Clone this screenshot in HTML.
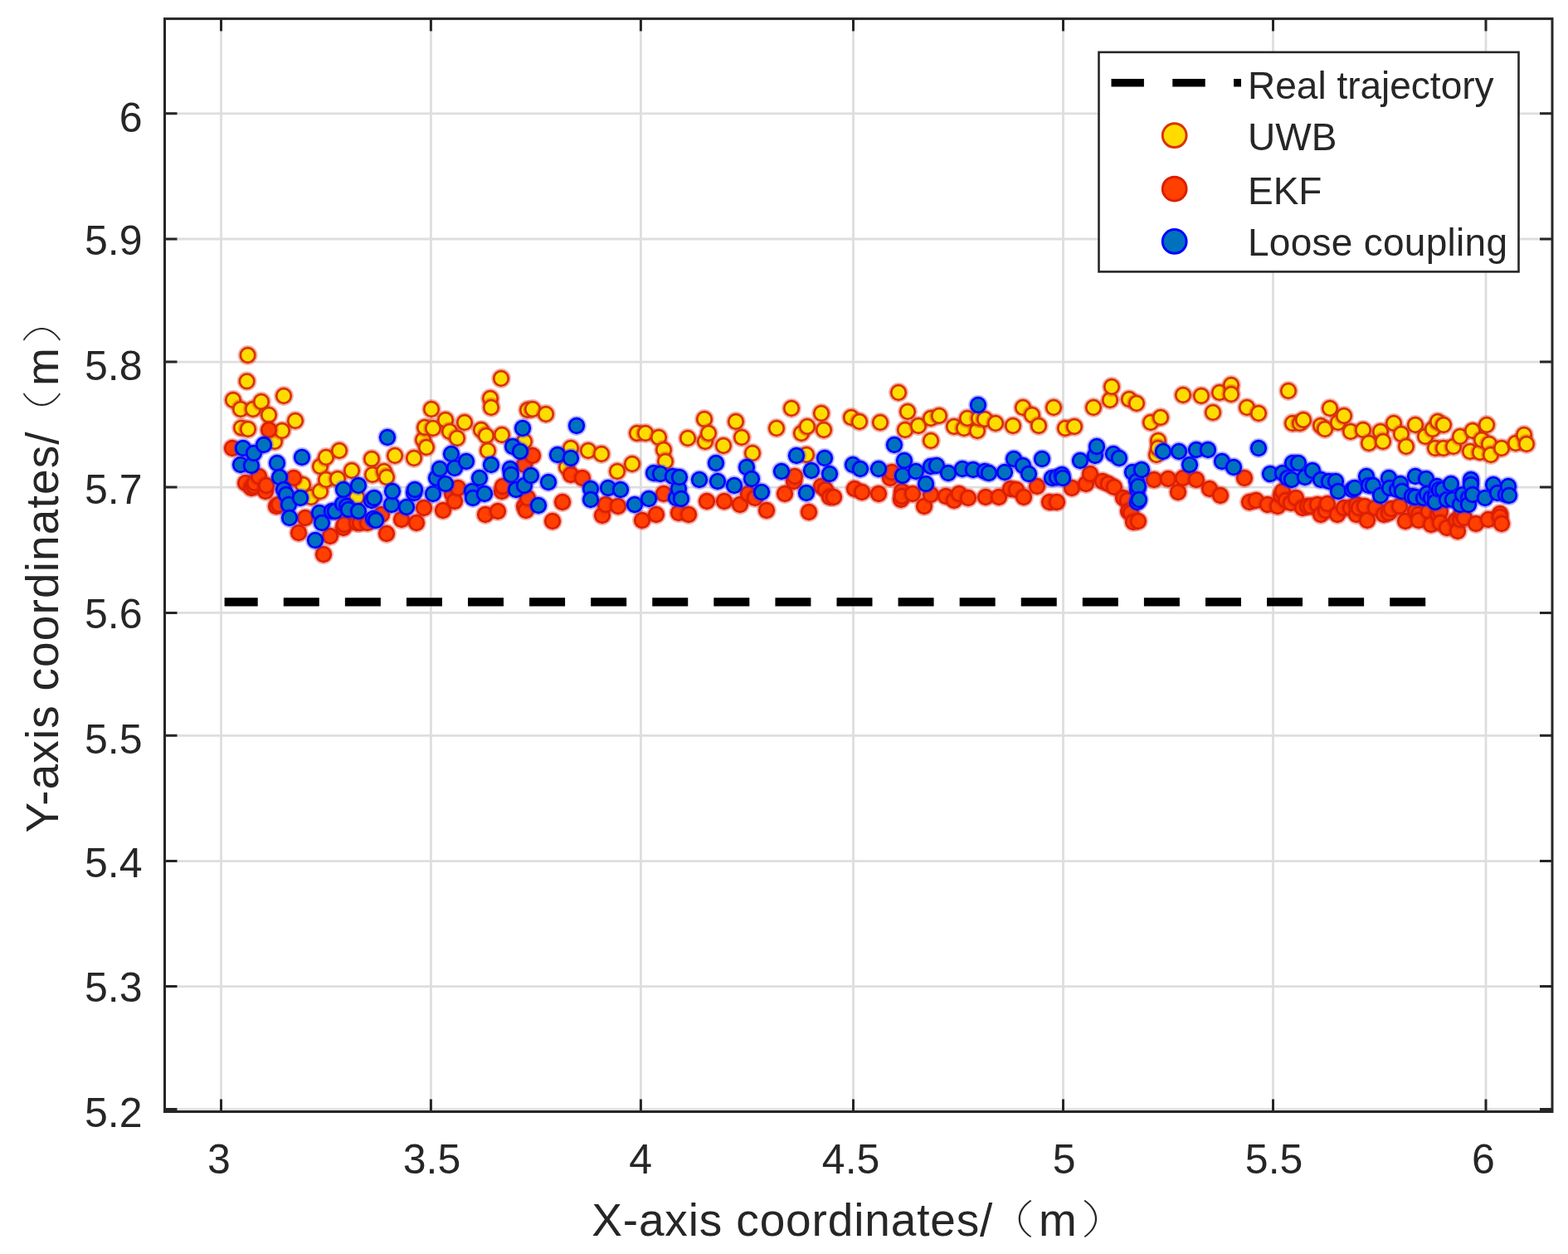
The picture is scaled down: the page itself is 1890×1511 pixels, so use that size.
<!DOCTYPE html><html><head><meta charset="utf-8"><title>Trajectory comparison</title>
<style>html,body{margin:0;padding:0;background:#fff;width:1890px;height:1511px;overflow:hidden}svg{display:block}text{font-family:"Liberation Sans", Arial, sans-serif;fill:#262626}.cj{font-family:"Liberation Sans", "Noto Sans CJK SC", sans-serif;font-weight:100}</style></head><body>
<svg width="1890" height="1511" viewBox="0 0 1890 1511">
<rect x="0" y="0" width="1890" height="1511" fill="#fff"/>
<g>
<path d="M266.5 22.6V1339.5M519.4 22.6V1339.5M772.4 22.6V1339.5M1028.5 22.6V1339.5M1281.5 22.6V1339.5M1534.5 22.6V1339.5M1791.0 22.6V1339.5M198.5 136.8H1871.0M198.5 288.0H1871.0M198.5 436.1H1871.0M198.5 587.1H1871.0M198.5 738.4H1871.0M198.5 886.3H1871.0M198.5 1037.6H1871.0M198.5 1188.6H1871.0M198.5 1336.6H1871.0" stroke="#dedede" stroke-width="2.8" fill="none"/>
<defs>
<g id="u"><circle r="11.00" fill="none" stroke="#D82818" stroke-opacity="0.35" stroke-width="1.80"/><circle r="8.80" fill="#FFDC00" stroke="#D93204" stroke-width="2.80"/></g>
<g id="e"><circle r="11.00" fill="none" stroke="#E02010" stroke-opacity="0.35" stroke-width="1.80"/><circle r="8.80" fill="#FF4000" stroke="#DD1E00" stroke-width="2.80"/></g>
<g id="l"><circle r="11.00" fill="none" stroke="#3030FF" stroke-opacity="0.35" stroke-width="1.80"/><circle r="8.80" fill="#0072BD" stroke="#0000FF" stroke-width="2.80"/></g>
</defs>
<g><use href="#u" x="281.0" y="482.0"/><use href="#u" x="290.0" y="493.0"/><use href="#u" x="291.0" y="515.6"/><use href="#u" x="297.6" y="459.4"/><use href="#u" x="298.6" y="428.0"/><use href="#u" x="299.0" y="517.0"/><use href="#u" x="305.0" y="493.0"/><use href="#u" x="315.0" y="484.0"/><use href="#u" x="324.0" y="500.0"/><use href="#u" x="331.0" y="532.0"/><use href="#u" x="340.0" y="519.0"/><use href="#u" x="342.0" y="477.0"/><use href="#u" x="356.0" y="507.0"/><use href="#u" x="365.0" y="584.0"/><use href="#u" x="375.0" y="599.0"/><use href="#u" x="386.0" y="562.0"/><use href="#u" x="386.0" y="592.0"/><use href="#u" x="393.0" y="551.0"/><use href="#u" x="393.0" y="578.0"/><use href="#u" x="407.0" y="577.0"/><use href="#u" x="409.0" y="543.0"/><use href="#u" x="424.0" y="567.0"/><use href="#u" x="430.0" y="599.0"/><use href="#u" x="448.0" y="553.0"/><use href="#u" x="449.0" y="572.0"/><use href="#u" x="463.0" y="568.0"/><use href="#u" x="466.0" y="575.0"/><use href="#u" x="476.0" y="549.0"/><use href="#u" x="499.0" y="552.0"/><use href="#u" x="510.0" y="530.0"/><use href="#u" x="512.0" y="515.0"/><use href="#u" x="514.0" y="539.0"/><use href="#u" x="520.0" y="493.0"/><use href="#u" x="522.0" y="516.0"/><use href="#u" x="537.0" y="506.0"/><use href="#u" x="542.0" y="520.0"/><use href="#u" x="551.0" y="528.0"/><use href="#u" x="560.0" y="509.0"/><use href="#u" x="580.0" y="518.0"/><use href="#u" x="586.0" y="525.0"/><use href="#u" x="588.0" y="543.0"/><use href="#u" x="591.0" y="480.0"/><use href="#u" x="592.0" y="491.0"/><use href="#u" x="604.0" y="456.0"/><use href="#u" x="605.0" y="524.0"/><use href="#u" x="632.0" y="532.0"/><use href="#u" x="636.0" y="494.0"/><use href="#u" x="642.0" y="493.0"/><use href="#u" x="658.0" y="499.0"/><use href="#u" x="683.0" y="563.0"/><use href="#u" x="688.0" y="540.0"/><use href="#u" x="709.0" y="543.0"/><use href="#u" x="725.0" y="547.0"/><use href="#u" x="744.0" y="568.0"/><use href="#u" x="762.0" y="559.0"/><use href="#u" x="768.0" y="522.0"/><use href="#u" x="778.0" y="522.0"/><use href="#u" x="794.0" y="527.0"/><use href="#u" x="800.0" y="542.0"/><use href="#u" x="802.0" y="556.0"/><use href="#u" x="829.0" y="528.0"/><use href="#u" x="849.0" y="505.0"/><use href="#u" x="850.0" y="532.0"/><use href="#u" x="854.0" y="522.0"/><use href="#u" x="872.0" y="537.0"/><use href="#u" x="887.0" y="508.0"/><use href="#u" x="894.0" y="527.0"/><use href="#u" x="907.0" y="546.0"/><use href="#u" x="936.0" y="516.0"/><use href="#u" x="954.0" y="492.0"/><use href="#u" x="966.0" y="522.0"/><use href="#u" x="972.0" y="548.0"/><use href="#u" x="973.0" y="514.0"/><use href="#u" x="990.0" y="498.0"/><use href="#u" x="993.0" y="518.0"/><use href="#u" x="1026.0" y="503.0"/><use href="#u" x="1036.0" y="508.0"/><use href="#u" x="1061.0" y="509.0"/><use href="#u" x="1083.0" y="473.0"/><use href="#u" x="1091.0" y="518.0"/><use href="#u" x="1094.0" y="496.0"/><use href="#u" x="1107.0" y="513.0"/><use href="#u" x="1122.0" y="504.0"/><use href="#u" x="1122.0" y="531.0"/><use href="#u" x="1132.0" y="501.0"/><use href="#u" x="1150.0" y="514.0"/><use href="#u" x="1162.0" y="516.0"/><use href="#u" x="1166.0" y="504.0"/><use href="#u" x="1178.0" y="519.0"/><use href="#u" x="1180.0" y="504.0"/><use href="#u" x="1187.0" y="505.0"/><use href="#u" x="1200.0" y="510.0"/><use href="#u" x="1221.0" y="513.0"/><use href="#u" x="1233.0" y="491.0"/><use href="#u" x="1244.0" y="500.0"/><use href="#u" x="1252.0" y="513.0"/><use href="#u" x="1270.0" y="491.0"/><use href="#u" x="1284.0" y="516.0"/><use href="#u" x="1295.0" y="514.0"/><use href="#u" x="1318.0" y="491.0"/><use href="#u" x="1338.0" y="482.0"/><use href="#u" x="1340.0" y="466.0"/><use href="#u" x="1361.0" y="481.0"/><use href="#u" x="1370.0" y="486.0"/><use href="#u" x="1387.0" y="509.0"/><use href="#u" x="1394.0" y="548.0"/><use href="#u" x="1396.0" y="531.0"/><use href="#u" x="1396.0" y="540.0"/><use href="#u" x="1399.0" y="503.0"/><use href="#u" x="1426.0" y="476.0"/><use href="#u" x="1448.0" y="477.0"/><use href="#u" x="1462.0" y="497.0"/><use href="#u" x="1470.0" y="473.0"/><use href="#u" x="1484.0" y="464.0"/><use href="#u" x="1484.0" y="475.0"/><use href="#u" x="1503.0" y="491.0"/><use href="#u" x="1517.0" y="498.0"/><use href="#u" x="1553.0" y="471.0"/><use href="#u" x="1558.0" y="510.0"/><use href="#u" x="1567.0" y="510.0"/><use href="#u" x="1571.0" y="506.0"/><use href="#u" x="1592.0" y="513.0"/><use href="#u" x="1597.0" y="517.0"/><use href="#u" x="1603.0" y="492.0"/><use href="#u" x="1613.0" y="509.0"/><use href="#u" x="1620.0" y="501.0"/><use href="#u" x="1628.0" y="520.0"/><use href="#u" x="1643.0" y="518.0"/><use href="#u" x="1650.0" y="534.0"/><use href="#u" x="1664.0" y="520.0"/><use href="#u" x="1667.0" y="532.0"/><use href="#u" x="1680.0" y="510.0"/><use href="#u" x="1689.0" y="523.0"/><use href="#u" x="1695.0" y="538.0"/><use href="#u" x="1706.0" y="512.0"/><use href="#u" x="1718.0" y="526.0"/><use href="#u" x="1727.0" y="517.0"/><use href="#u" x="1730.0" y="540.0"/><use href="#u" x="1733.0" y="508.0"/><use href="#u" x="1740.0" y="512.0"/><use href="#u" x="1740.0" y="540.0"/><use href="#u" x="1752.0" y="538.0"/><use href="#u" x="1760.0" y="526.0"/><use href="#u" x="1772.0" y="544.0"/><use href="#u" x="1775.0" y="519.0"/><use href="#u" x="1784.0" y="545.0"/><use href="#u" x="1786.0" y="530.0"/><use href="#u" x="1792.0" y="512.0"/><use href="#u" x="1795.0" y="535.0"/><use href="#u" x="1797.0" y="548.0"/><use href="#u" x="1810.0" y="540.0"/><use href="#u" x="1827.0" y="534.0"/><use href="#u" x="1837.0" y="524.0"/><use href="#u" x="1840.0" y="535.0"/><use href="#e" x="280.0" y="540.0"/><use href="#e" x="296.0" y="582.0"/><use href="#e" x="303.0" y="588.0"/><use href="#e" x="306.0" y="586.0"/><use href="#e" x="307.0" y="582.0"/><use href="#e" x="312.0" y="574.0"/><use href="#e" x="320.0" y="592.0"/><use href="#e" x="321.0" y="585.0"/><use href="#e" x="324.0" y="518.0"/><use href="#e" x="333.0" y="610.0"/><use href="#e" x="336.0" y="608.0"/><use href="#e" x="354.0" y="576.0"/><use href="#e" x="360.0" y="642.0"/><use href="#e" x="368.0" y="624.0"/><use href="#e" x="390.0" y="668.0"/><use href="#e" x="398.0" y="646.0"/><use href="#e" x="414.0" y="636.0"/><use href="#e" x="415.0" y="632.0"/><use href="#e" x="430.0" y="630.0"/><use href="#e" x="434.0" y="630.0"/><use href="#e" x="443.0" y="630.0"/><use href="#e" x="460.0" y="620.0"/><use href="#e" x="466.0" y="643.0"/><use href="#e" x="484.0" y="626.0"/><use href="#e" x="502.0" y="630.0"/><use href="#e" x="511.0" y="612.0"/><use href="#e" x="534.0" y="615.0"/><use href="#e" x="545.0" y="595.0"/><use href="#e" x="548.0" y="604.0"/><use href="#e" x="552.0" y="588.0"/><use href="#e" x="585.0" y="620.0"/><use href="#e" x="600.0" y="616.0"/><use href="#e" x="605.0" y="592.0"/><use href="#e" x="606.0" y="586.0"/><use href="#e" x="632.0" y="560.0"/><use href="#e" x="632.0" y="610.0"/><use href="#e" x="634.0" y="615.0"/><use href="#e" x="636.0" y="600.0"/><use href="#e" x="642.0" y="549.0"/><use href="#e" x="666.0" y="628.0"/><use href="#e" x="678.0" y="605.0"/><use href="#e" x="688.0" y="572.0"/><use href="#e" x="702.0" y="576.0"/><use href="#e" x="726.0" y="621.0"/><use href="#e" x="730.0" y="608.0"/><use href="#e" x="745.0" y="610.0"/><use href="#e" x="774.0" y="627.0"/><use href="#e" x="791.0" y="620.0"/><use href="#e" x="800.0" y="595.0"/><use href="#e" x="818.0" y="618.0"/><use href="#e" x="830.0" y="620.0"/><use href="#e" x="852.0" y="604.0"/><use href="#e" x="873.0" y="604.0"/><use href="#e" x="892.0" y="608.0"/><use href="#e" x="902.0" y="595.0"/><use href="#e" x="910.0" y="600.0"/><use href="#e" x="924.0" y="615.0"/><use href="#e" x="946.0" y="595.0"/><use href="#e" x="957.0" y="580.0"/><use href="#e" x="958.0" y="574.0"/><use href="#e" x="975.0" y="617.0"/><use href="#e" x="990.0" y="586.0"/><use href="#e" x="995.0" y="590.0"/><use href="#e" x="1000.0" y="599.0"/><use href="#e" x="1005.0" y="599.0"/><use href="#e" x="1030.0" y="589.0"/><use href="#e" x="1039.0" y="593.0"/><use href="#e" x="1059.0" y="595.0"/><use href="#e" x="1073.0" y="576.0"/><use href="#e" x="1075.0" y="569.0"/><use href="#e" x="1086.0" y="602.0"/><use href="#e" x="1087.0" y="592.0"/><use href="#e" x="1087.0" y="598.0"/><use href="#e" x="1100.0" y="595.0"/><use href="#e" x="1114.0" y="610.0"/><use href="#e" x="1122.0" y="596.0"/><use href="#e" x="1140.0" y="598.0"/><use href="#e" x="1150.0" y="603.0"/><use href="#e" x="1156.0" y="595.0"/><use href="#e" x="1167.0" y="600.0"/><use href="#e" x="1188.0" y="599.0"/><use href="#e" x="1204.0" y="599.0"/><use href="#e" x="1218.0" y="589.0"/><use href="#e" x="1225.0" y="590.0"/><use href="#e" x="1234.0" y="599.0"/><use href="#e" x="1250.0" y="586.0"/><use href="#e" x="1265.0" y="605.0"/><use href="#e" x="1274.0" y="605.0"/><use href="#e" x="1292.0" y="588.0"/><use href="#e" x="1309.0" y="583.0"/><use href="#e" x="1314.0" y="571.0"/><use href="#e" x="1329.0" y="580.0"/><use href="#e" x="1336.0" y="583.0"/><use href="#e" x="1343.0" y="587.0"/><use href="#e" x="1354.0" y="600.0"/><use href="#e" x="1359.0" y="603.0"/><use href="#e" x="1360.0" y="616.0"/><use href="#e" x="1363.0" y="618.0"/><use href="#e" x="1366.0" y="629.0"/><use href="#e" x="1372.0" y="628.0"/><use href="#e" x="1391.0" y="578.0"/><use href="#e" x="1408.0" y="577.0"/><use href="#e" x="1420.0" y="593.0"/><use href="#e" x="1426.0" y="576.0"/><use href="#e" x="1442.0" y="578.0"/><use href="#e" x="1458.0" y="589.0"/><use href="#e" x="1471.0" y="597.0"/><use href="#e" x="1500.0" y="576.0"/><use href="#e" x="1506.0" y="605.0"/><use href="#e" x="1514.0" y="603.0"/><use href="#e" x="1528.0" y="608.0"/><use href="#e" x="1540.0" y="610.0"/><use href="#e" x="1544.0" y="597.0"/><use href="#e" x="1546.0" y="592.0"/><use href="#e" x="1550.0" y="603.0"/><use href="#e" x="1556.0" y="606.0"/><use href="#e" x="1562.0" y="600.0"/><use href="#e" x="1570.0" y="612.0"/><use href="#e" x="1576.0" y="610.0"/><use href="#e" x="1580.0" y="610.0"/><use href="#e" x="1588.0" y="608.0"/><use href="#e" x="1592.0" y="620.0"/><use href="#e" x="1598.0" y="615.0"/><use href="#e" x="1600.0" y="607.0"/><use href="#e" x="1612.0" y="620.0"/><use href="#e" x="1620.0" y="612.0"/><use href="#e" x="1628.0" y="612.0"/><use href="#e" x="1635.0" y="608.0"/><use href="#e" x="1635.0" y="620.0"/><use href="#e" x="1638.0" y="612.0"/><use href="#e" x="1645.0" y="610.0"/><use href="#e" x="1648.0" y="627.0"/><use href="#e" x="1658.0" y="612.0"/><use href="#e" x="1668.0" y="620.0"/><use href="#e" x="1674.0" y="618.0"/><use href="#e" x="1677.0" y="613.0"/><use href="#e" x="1687.0" y="610.0"/><use href="#e" x="1694.0" y="628.0"/><use href="#e" x="1706.0" y="616.0"/><use href="#e" x="1710.0" y="620.0"/><use href="#e" x="1710.0" y="627.0"/><use href="#e" x="1722.0" y="616.0"/><use href="#e" x="1725.0" y="632.0"/><use href="#e" x="1733.0" y="620.0"/><use href="#e" x="1736.0" y="616.0"/><use href="#e" x="1736.0" y="630.0"/><use href="#e" x="1744.0" y="636.0"/><use href="#e" x="1755.0" y="627.0"/><use href="#e" x="1757.0" y="640.0"/><use href="#e" x="1760.0" y="626.0"/><use href="#e" x="1762.0" y="618.0"/><use href="#e" x="1765.0" y="624.0"/><use href="#e" x="1779.0" y="631.0"/><use href="#e" x="1794.0" y="626.0"/><use href="#e" x="1808.0" y="619.0"/><use href="#e" x="1808.0" y="623.0"/><use href="#e" x="1810.0" y="631.0"/><use href="#l" x="290.0" y="560.0"/><use href="#l" x="293.0" y="540.0"/><use href="#l" x="303.0" y="561.0"/><use href="#l" x="306.0" y="546.0"/><use href="#l" x="318.0" y="536.0"/><use href="#l" x="334.0" y="558.0"/><use href="#l" x="337.0" y="575.0"/><use href="#l" x="342.0" y="590.0"/><use href="#l" x="345.0" y="596.0"/><use href="#l" x="348.0" y="608.0"/><use href="#l" x="349.0" y="624.0"/><use href="#l" x="362.0" y="600.0"/><use href="#l" x="364.0" y="551.0"/><use href="#l" x="380.0" y="651.0"/><use href="#l" x="385.0" y="618.0"/><use href="#l" x="388.0" y="630.0"/><use href="#l" x="400.0" y="616.0"/><use href="#l" x="404.0" y="616.0"/><use href="#l" x="413.0" y="607.0"/><use href="#l" x="414.0" y="590.0"/><use href="#l" x="418.0" y="610.0"/><use href="#l" x="420.0" y="614.0"/><use href="#l" x="432.0" y="585.0"/><use href="#l" x="432.0" y="616.0"/><use href="#l" x="448.0" y="603.0"/><use href="#l" x="450.0" y="625.0"/><use href="#l" x="451.0" y="600.0"/><use href="#l" x="453.0" y="627.0"/><use href="#l" x="467.0" y="527.0"/><use href="#l" x="472.0" y="608.0"/><use href="#l" x="473.0" y="592.0"/><use href="#l" x="490.0" y="611.0"/><use href="#l" x="499.0" y="594.0"/><use href="#l" x="500.0" y="590.0"/><use href="#l" x="522.0" y="595.0"/><use href="#l" x="526.0" y="576.0"/><use href="#l" x="530.0" y="565.0"/><use href="#l" x="537.0" y="583.0"/><use href="#l" x="544.0" y="547.0"/><use href="#l" x="548.0" y="564.0"/><use href="#l" x="562.0" y="556.0"/><use href="#l" x="569.0" y="592.0"/><use href="#l" x="570.0" y="600.0"/><use href="#l" x="578.0" y="576.0"/><use href="#l" x="584.0" y="595.0"/><use href="#l" x="592.0" y="560.0"/><use href="#l" x="615.0" y="565.0"/><use href="#l" x="616.0" y="572.0"/><use href="#l" x="618.0" y="538.0"/><use href="#l" x="622.0" y="590.0"/><use href="#l" x="627.0" y="544.0"/><use href="#l" x="630.0" y="516.0"/><use href="#l" x="632.0" y="585.0"/><use href="#l" x="640.0" y="573.0"/><use href="#l" x="649.0" y="609.0"/><use href="#l" x="661.0" y="581.0"/><use href="#l" x="672.0" y="548.0"/><use href="#l" x="688.0" y="552.0"/><use href="#l" x="695.0" y="513.0"/><use href="#l" x="712.0" y="589.0"/><use href="#l" x="712.0" y="602.0"/><use href="#l" x="733.0" y="588.0"/><use href="#l" x="748.0" y="590.0"/><use href="#l" x="765.0" y="608.0"/><use href="#l" x="782.0" y="601.0"/><use href="#l" x="788.0" y="570.0"/><use href="#l" x="796.0" y="571.0"/><use href="#l" x="811.0" y="574.0"/><use href="#l" x="815.0" y="600.0"/><use href="#l" x="818.0" y="589.0"/><use href="#l" x="819.0" y="575.0"/><use href="#l" x="821.0" y="601.0"/><use href="#l" x="843.0" y="578.0"/><use href="#l" x="863.0" y="558.0"/><use href="#l" x="865.0" y="580.0"/><use href="#l" x="885.0" y="585.0"/><use href="#l" x="900.0" y="563.0"/><use href="#l" x="906.0" y="577.0"/><use href="#l" x="918.0" y="593.0"/><use href="#l" x="942.0" y="568.0"/><use href="#l" x="960.0" y="549.0"/><use href="#l" x="972.0" y="594.0"/><use href="#l" x="978.0" y="567.0"/><use href="#l" x="994.0" y="552.0"/><use href="#l" x="1000.0" y="571.0"/><use href="#l" x="1028.0" y="560.0"/><use href="#l" x="1037.0" y="565.0"/><use href="#l" x="1059.0" y="565.0"/><use href="#l" x="1078.0" y="536.0"/><use href="#l" x="1088.0" y="573.0"/><use href="#l" x="1090.0" y="555.0"/><use href="#l" x="1104.0" y="568.0"/><use href="#l" x="1116.0" y="583.0"/><use href="#l" x="1122.0" y="562.0"/><use href="#l" x="1129.0" y="561.0"/><use href="#l" x="1143.0" y="570.0"/><use href="#l" x="1160.0" y="565.0"/><use href="#l" x="1173.0" y="566.0"/><use href="#l" x="1179.0" y="488.0"/><use href="#l" x="1187.0" y="568.0"/><use href="#l" x="1192.0" y="570.0"/><use href="#l" x="1211.0" y="569.0"/><use href="#l" x="1222.0" y="553.0"/><use href="#l" x="1233.0" y="561.0"/><use href="#l" x="1240.0" y="571.0"/><use href="#l" x="1256.0" y="553.0"/><use href="#l" x="1268.0" y="576.0"/><use href="#l" x="1274.0" y="575.0"/><use href="#l" x="1280.0" y="572.0"/><use href="#l" x="1281.0" y="576.0"/><use href="#l" x="1302.0" y="555.0"/><use href="#l" x="1320.0" y="549.0"/><use href="#l" x="1322.0" y="538.0"/><use href="#l" x="1342.0" y="547.0"/><use href="#l" x="1349.0" y="552.0"/><use href="#l" x="1365.0" y="569.0"/><use href="#l" x="1370.0" y="580.0"/><use href="#l" x="1371.0" y="590.0"/><use href="#l" x="1371.0" y="605.0"/><use href="#l" x="1372.0" y="586.0"/><use href="#l" x="1373.0" y="602.0"/><use href="#l" x="1376.0" y="566.0"/><use href="#l" x="1402.0" y="544.0"/><use href="#l" x="1421.0" y="544.0"/><use href="#l" x="1434.0" y="560.0"/><use href="#l" x="1442.0" y="542.0"/><use href="#l" x="1456.0" y="542.0"/><use href="#l" x="1473.0" y="556.0"/><use href="#l" x="1487.0" y="563.0"/><use href="#l" x="1517.0" y="540.0"/><use href="#l" x="1531.0" y="571.0"/><use href="#l" x="1546.0" y="570.0"/><use href="#l" x="1552.0" y="576.0"/><use href="#l" x="1557.0" y="578.0"/><use href="#l" x="1558.0" y="558.0"/><use href="#l" x="1565.0" y="558.0"/><use href="#l" x="1573.0" y="575.0"/><use href="#l" x="1582.0" y="567.0"/><use href="#l" x="1592.0" y="578.0"/><use href="#l" x="1602.0" y="580.0"/><use href="#l" x="1610.0" y="580.0"/><use href="#l" x="1613.0" y="592.0"/><use href="#l" x="1630.0" y="590.0"/><use href="#l" x="1633.0" y="588.0"/><use href="#l" x="1647.0" y="574.0"/><use href="#l" x="1650.0" y="585.0"/><use href="#l" x="1655.0" y="585.0"/><use href="#l" x="1664.0" y="597.0"/><use href="#l" x="1674.0" y="576.0"/><use href="#l" x="1675.0" y="588.0"/><use href="#l" x="1684.0" y="590.0"/><use href="#l" x="1688.0" y="583.0"/><use href="#l" x="1690.0" y="592.0"/><use href="#l" x="1702.0" y="598.0"/><use href="#l" x="1706.0" y="574.0"/><use href="#l" x="1706.0" y="599.0"/><use href="#l" x="1716.0" y="600.0"/><use href="#l" x="1719.0" y="577.0"/><use href="#l" x="1720.0" y="595.0"/><use href="#l" x="1725.0" y="600.0"/><use href="#l" x="1730.0" y="598.0"/><use href="#l" x="1730.0" y="605.0"/><use href="#l" x="1732.0" y="586.0"/><use href="#l" x="1735.0" y="590.0"/><use href="#l" x="1739.0" y="590.0"/><use href="#l" x="1744.0" y="602.0"/><use href="#l" x="1749.0" y="583.0"/><use href="#l" x="1751.0" y="602.0"/><use href="#l" x="1760.0" y="608.0"/><use href="#l" x="1763.0" y="596.0"/><use href="#l" x="1770.0" y="600.0"/><use href="#l" x="1770.0" y="608.0"/><use href="#l" x="1773.0" y="578.0"/><use href="#l" x="1773.0" y="584.0"/><use href="#l" x="1775.0" y="596.0"/><use href="#l" x="1790.0" y="600.0"/><use href="#l" x="1800.0" y="584.0"/><use href="#l" x="1805.0" y="594.0"/><use href="#l" x="1815.0" y="596.0"/><use href="#l" x="1818.0" y="586.0"/><use href="#l" x="1819.0" y="597.0"/></g>
<path d="M270.6 725.3H1718.2" stroke="#000" stroke-width="10.2" stroke-dasharray="43 31.08" stroke-dashoffset="2.9" fill="none"/>
<rect x="198.5" y="22.6" width="1672.5" height="1316.9" fill="none" stroke="#262626" stroke-width="3"/>
<path d="M266.5 1339.5V1324.5M266.5 22.6V37.6M519.4 1339.5V1324.5M519.4 22.6V37.6M772.4 1339.5V1324.5M772.4 22.6V37.6M1028.5 1339.5V1324.5M1028.5 22.6V37.6M1281.5 1339.5V1324.5M1281.5 22.6V37.6M1534.5 1339.5V1324.5M1534.5 22.6V37.6M1791.0 1339.5V1324.5M1791.0 22.6V37.6M198.5 136.8H213.5M1871.0 136.8H1856.0M198.5 288.0H213.5M1871.0 288.0H1856.0M198.5 436.1H213.5M1871.0 436.1H1856.0M198.5 587.1H213.5M1871.0 587.1H1856.0M198.5 738.4H213.5M1871.0 738.4H1856.0M198.5 886.3H213.5M1871.0 886.3H1856.0M198.5 1037.6H213.5M1871.0 1037.6H1856.0M198.5 1188.6H213.5M1871.0 1188.6H1856.0M198.5 1336.6H213.5M1871.0 1336.6H1856.0" stroke="#262626" stroke-width="3" fill="none"/>
<text x="263.8" y="1414.0" font-size="50" text-anchor="middle">3</text>
<text x="520.5" y="1414.0" font-size="50" text-anchor="middle">3.5</text>
<text x="772.1" y="1414.0" font-size="50" text-anchor="middle">4</text>
<text x="1025.6" y="1414.0" font-size="50" text-anchor="middle">4.5</text>
<text x="1282.7" y="1414.0" font-size="50" text-anchor="middle">5</text>
<text x="1535.6" y="1414.0" font-size="50" text-anchor="middle">5.5</text>
<text x="1787.9" y="1414.0" font-size="50" text-anchor="middle">6</text>
<text x="171.5" y="159.1" font-size="50" text-anchor="end">6</text>
<text x="171.5" y="307.1" font-size="50" text-anchor="end">5.9</text>
<text x="171.5" y="457.7" font-size="50" text-anchor="end">5.8</text>
<text x="171.5" y="606.5" font-size="50" text-anchor="end">5.7</text>
<text x="171.5" y="757.1" font-size="50" text-anchor="end">5.6</text>
<text x="171.5" y="907.7" font-size="50" text-anchor="end">5.5</text>
<text x="171.5" y="1056.5" font-size="50" text-anchor="end">5.4</text>
<text x="171.5" y="1207.1" font-size="50" text-anchor="end">5.3</text>
<text x="171.5" y="1357.7" font-size="50" text-anchor="end">5.2</text>
<text x="713.2" y="1488.5" font-size="55" textLength="483.2" lengthAdjust="spacing">X-axis coordinates/</text><text class="cj" transform="translate(1176.7 1486.0) scale(1.275 0.865)" font-size="55">（</text><text x="1251.9" y="1488.5" font-size="55">m</text><text class="cj" transform="translate(1302.9 1486.0) scale(1.275 0.865)" font-size="55">）</text>
<g transform="translate(70.0 0) rotate(-90)"><text x="-1003.6" y="0.0" font-size="55" textLength="483.2" lengthAdjust="spacing">Y-axis coordinates/</text><text class="cj" transform="translate(-540.1 -2.5) scale(1.275 0.865)" font-size="55">（</text><text x="-464.9" y="0.0" font-size="55">m</text><text class="cj" transform="translate(-413.9 -2.5) scale(1.275 0.865)" font-size="55">）</text></g>
<rect x="1324.5" y="62.9" width="506" height="264.5" fill="#fff" stroke="#262626" stroke-width="2.6"/>
<path d="M1339.5 99.7H1496" stroke="#000" stroke-width="9.6" stroke-dasharray="39.4 34.4 39.4 34.4" fill="none"/>
<circle cx="1415.7" cy="163.2" r="14.40" fill="#FFDC00" stroke="#D93204" stroke-width="3"/>
<circle cx="1415.7" cy="227.6" r="14.40" fill="#FF4000" stroke="#DD1E00" stroke-width="3"/>
<circle cx="1415.7" cy="290.9" r="14.40" fill="#0072BD" stroke="#0000FF" stroke-width="3"/>
<text x="1504.0" y="119.1" font-size="46">Real trajectory</text>
<text x="1504.0" y="181.3" font-size="46">UWB</text>
<text x="1504.0" y="246.0" font-size="46">EKF</text>
<text x="1504.0" y="307.8" font-size="46" textLength="313.0" lengthAdjust="spacing">Loose coupling</text>
</g>
</svg></body></html>
